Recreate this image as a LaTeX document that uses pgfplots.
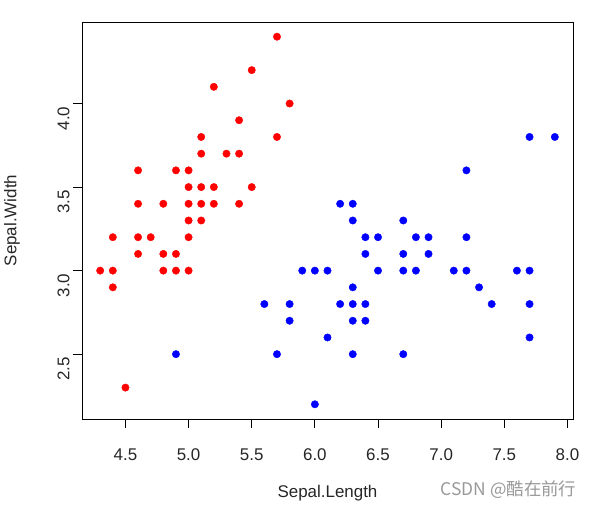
\documentclass[border=0pt]{standalone}
\usepackage{fontspec}
\setmainfont{Liberation Sans}
\newfontfamily\cjk{Noto Sans CJK SC}
\usepackage{pgfplots}
\pgfplotsset{compat=1.18}
\begin{document}
\begin{tikzpicture}
\path[use as bounding box] (-82bp,-90bp) rectangle (509bp,419bp);
\begin{axis}[
  at={(0,0)}, anchor=south west,
  scale only axis, width=491bp, height=397bp,
  xmin=4.156, xmax=8.044, ymin=2.112, ymax=4.488,
  axis line style={black, line width=0.8pt},
  xtick={4.5,5.0,5.5,6.0,6.5,7.0,7.5,8.0},
  ytick={2.5,3.0,3.5,4.0},
  tick align=outside, xtick pos=bottom, ytick pos=left,
  major tick length=9bp,
  tick style={black, line width=0.8pt},
  /pgf/number format/assume math mode=true,
  /pgf/number format/.cd, fixed, fixed zerofill, precision=1, /pgfplots/.cd,
  tick label style={font=\fontsize{17}{20}\selectfont, text=black!85},
  xticklabel style={yshift=-17bp},
  yticklabel style={rotate=90, anchor=south, xshift=-15bp},
  label style={font=\fontsize{17}{20}\selectfont, text=black!85},
  xlabel={Sepal.Length},
  ylabel={Sepal.Width},
  xlabel style={at={(axis description cs:0.5,-0.1864)}, anchor=center},
  ylabel style={at={(axis description cs:-0.1426,0.5)}, anchor=center},
]
\addplot[only marks, mark=*, mark size=3.7bp, color=red, mark options={draw=none, fill=red}] coordinates {
(5.7,4.4)(5.5,4.2)(5.2,4.1)(5.8,4.0)(5.4,3.9)(5.1,3.8)(5.7,3.8)(5.1,3.7)(5.3,3.7)(5.4,3.7)
(4.6,3.6)(4.9,3.6)(5.0,3.6)(5.0,3.5)(5.1,3.5)(5.2,3.5)(5.5,3.5)(4.6,3.4)(4.8,3.4)(5.0,3.4)
(5.1,3.4)(5.2,3.4)(5.4,3.4)(5.0,3.3)(5.1,3.3)(4.4,3.2)(4.6,3.2)(4.7,3.2)(5.0,3.2)(4.6,3.1)
(4.8,3.1)(4.9,3.1)(4.3,3.0)(4.4,3.0)(4.8,3.0)(4.9,3.0)(5.0,3.0)(4.4,2.9)(4.5,2.3)
};
\addplot[only marks, mark=*, mark size=3.7bp, color=blue, mark options={draw=none, fill=blue}] coordinates {
(4.9,2.5)(5.6,2.8)(5.8,2.8)(5.8,2.7)(5.7,2.5)(6.2,3.4)(6.3,3.4)(6.3,3.3)(6.7,3.3)(6.4,3.2)
(6.5,3.2)(6.8,3.2)(6.9,3.2)(6.4,3.1)(6.7,3.1)(6.9,3.1)(5.9,3.0)(6.0,3.0)(6.1,3.0)(6.5,3.0)
(6.7,3.0)(6.8,3.0)(6.3,2.9)(6.2,2.8)(6.3,2.8)(6.4,2.8)(6.3,2.7)(6.4,2.7)(6.1,2.6)(6.3,2.5)
(6.7,2.5)(6.0,2.2)(7.7,3.8)(7.9,3.8)(7.2,3.6)(7.2,3.2)(7.1,3.0)(7.2,3.0)(7.6,3.0)(7.7,3.0)
(7.3,2.9)(7.4,2.8)(7.7,2.8)(7.7,2.6)
};
\end{axis}
\node[anchor=west, text=gray!80, font=\cjk\fontsize{17.5}{19}\selectfont] at (355bp,-71bp) {CSDN @酷在前行};
\end{tikzpicture}
\end{document}
